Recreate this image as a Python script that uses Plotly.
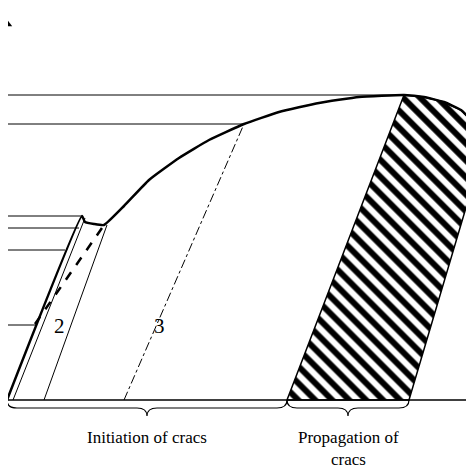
import plotly.graph_objects as go

# schematic coordinates (x right, y up; 0..474 canvas units)
main_x = [8, 83, 86, 95, 105, 125, 150, 180, 210, 245, 280, 320, 360, 405, 425, 445, 462, 474]
main_y = [74, 258, 252, 250, 249, 268, 294, 316, 334, 350, 362, 371, 377, 379, 377, 372, 364, 352]
hatch_x = [288, 405, 425, 445, 462, 474, 474, 410, 288]
hatch_y = [74, 379, 377, 372, 364, 352, 290, 74, 74]
hlines_y = [379, 350, 258, 246, 224, 149]
hlines_x = [405, 245, 83, 80, 66, 38]
line2a = ([14, 86], [74, 256])
line2b = ([45, 108], [74, 249])
dash2 = ([36, 103], [150, 246])
line3 = ([125, 245], [74, 350])
labels = ["2", "3"]

fig = go.Figure()
fig.add_trace(go.Scatter(x=hatch_x, y=hatch_y, fill="toself", mode="lines",
    line=dict(color="black", width=1.5), fillcolor="white",
    fillpattern=dict(shape="\\", size=12, solidity=0.5, fgcolor="black", fgopacity=1, bgcolor="white")))
for yy, xx in zip(hlines_y, hlines_x):
    fig.add_trace(go.Scatter(x=[8, xx], y=[yy, yy], mode="lines", line=dict(color="black", width=1)))
fig.add_trace(go.Scatter(x=main_x, y=main_y, mode="lines", line=dict(color="black", width=2.5, shape="spline", smoothing=0.4)))
fig.add_trace(go.Scatter(x=line2a[0], y=line2a[1], mode="lines", line=dict(color="black", width=1)))
fig.add_trace(go.Scatter(x=line2b[0], y=line2b[1], mode="lines", line=dict(color="black", width=1)))
fig.add_trace(go.Scatter(x=dash2[0], y=dash2[1], mode="lines", line=dict(color="black", width=2.5, dash="dash")))
fig.add_trace(go.Scatter(x=line3[0], y=line3[1], mode="lines", line=dict(color="black", width=1, dash="dashdot")))
# axes
fig.add_trace(go.Scatter(x=[8, 8], y=[74, 448], mode="lines", line=dict(color="black", width=1.5)))
fig.add_trace(go.Scatter(x=[8, 474], y=[74, 74], mode="lines", line=dict(color="black", width=1.5)))
fig.add_trace(go.Scatter(x=[8], y=[450], mode="markers", marker=dict(symbol="triangle-up", size=9, color="black")))

def brace(x0, x1, y0=74, d=16):
    m = (x0 + x1) / 2
    return (f"M {x0},{y0} Q {x0},{y0-d/2} {x0+10},{y0-d/2} L {m-10},{y0-d/2} "
            f"Q {m},{y0-d/2} {m},{y0-d} Q {m},{y0-d/2} {m+10},{y0-d/2} L {x1-10},{y0-d/2} "
            f"Q {x1},{y0-d/2} {x1},{y0}")
for a, b in [(8, 288), (288, 410)]:
    fig.add_shape(type="path", path=brace(a, b), line=dict(color="black", width=1.2), xref="x", yref="y")

f = dict(family="Liberation Serif", size=17, color="black")
fig.add_annotation(x=148, y=37, text="Initiation of cracs", showarrow=False, font=f)
fig.add_annotation(x=349, y=37, text="Propagation of", showarrow=False, font=f)
fig.add_annotation(x=349, y=15, text="cracs", showarrow=False, font=f)
fig.add_annotation(x=466, y=22, text="S", showarrow=False, font=dict(family="Liberation Serif", size=22, color="black"), xanchor="left")
fig.add_annotation(x=60, y=148, text=labels[0], showarrow=False, font=dict(family="Liberation Serif", size=21, color="black"))
fig.add_annotation(x=160, y=148, text=labels[1], showarrow=False, font=dict(family="Liberation Serif", size=21, color="black"))

fig.update_layout(width=474, height=474, margin=dict(l=0, r=0, t=0, b=0), showlegend=False,
    paper_bgcolor="white", plot_bgcolor="white",
    xaxis=dict(range=[9, 483], visible=False, fixedrange=True),
    yaxis=dict(range=[-8, 466], visible=False, fixedrange=True))
fig.write_html("out.html")
